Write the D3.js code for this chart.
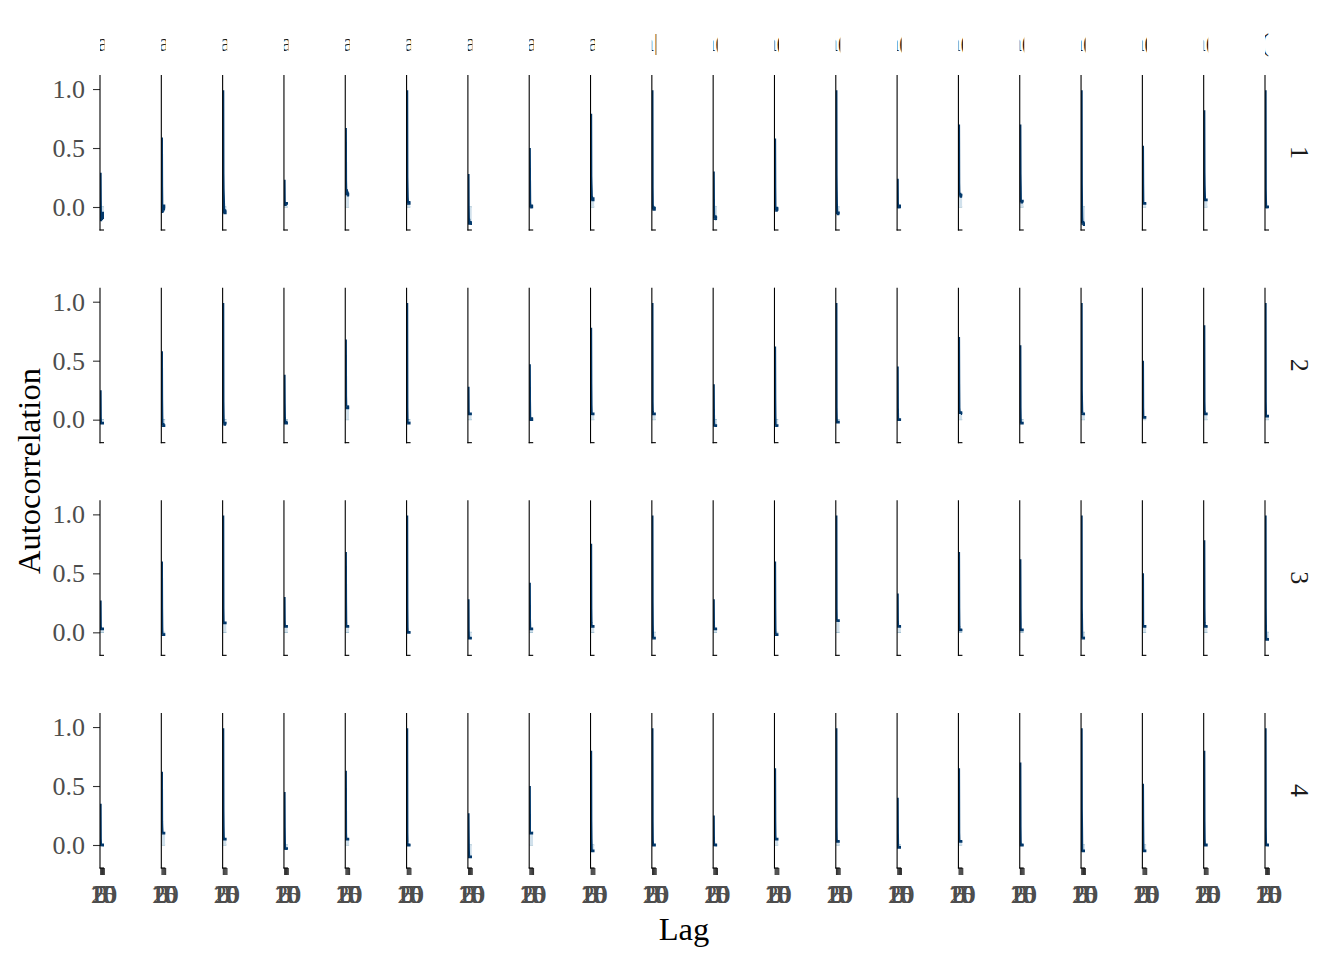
<!DOCTYPE html>
<html>
<head>
<meta charset="utf-8">
<script src="https://cdn.jsdelivr.net/npm/d3@7"></script>
<style>
  body { margin: 0; background: #ffffff; }
  svg text { font-family: "Liberation Serif", "Times New Roman", serif; }
</style>
</head>
<body>
<svg id="main-svg" width="1344" height="960"></svg>
<script>

// parameters (facet columns) and chains (facet rows)
var params = [
	'beta[1]', 'beta[2]', 'beta[3]', 'beta[4]', 'beta[5]',
	'beta[6]', 'beta[7]', 'beta[8]', 'beta[9]', 'beta[10]',
	'eta(1)', 'eta(2)', 'eta(3)', 'eta(4)', 'eta(5)',
	'eta(6)', 'eta(7)', 'eta(8)', 'eta(9)', 'eta(10)'
];
var chains = [ '1', '2', '3', '4' ];
var lags = d3.range( 1, 21 );
var lagTicks = [ 0, 5, 10, 15, 20 ];
var acfTicks = [ 0.0, 0.5, 1.0 ];

// autocorrelation at lags 1..20, one array per parameter
var acfChain1 = [
	[0.29, 0.05, -0.10, -0.12, -0.06, -0.08, -0.04, -0.09, -0.11, -0.07, -0.05, -0.08, -0.10, -0.06, -0.04, -0.07, -0.09, -0.08, -0.10, -0.08],
	[0.59, 0.17, 0.02, -0.05, -0.03, 0.01, -0.02, -0.04, 0.00, 0.02, -0.01, -0.03, 0.01, 0.00, -0.02, 0.01, 0.02, -0.01, 0.00, 0.00],
	[0.99, 0.28, 0.15, 0.10, 0.04, -0.02, -0.05, -0.03, -0.04, -0.06, -0.05, -0.02, -0.04, -0.05, -0.03, -0.04, -0.06, -0.05, -0.04, -0.05],
	[0.23, 0.05, 0.03, 0.02, 0.04, 0.03, 0.01, 0.03, 0.04, 0.02, 0.03, 0.02, 0.04, 0.03, 0.02, 0.03, 0.04, 0.02, 0.03, 0.03],
	[0.67, 0.22, 0.15, 0.12, 0.10, 0.14, 0.15, 0.12, 0.10, 0.11, 0.13, 0.10, 0.12, 0.11, 0.09, 0.10, 0.12, 0.10, 0.11, 0.10],
	[0.99, 0.25, 0.16, 0.08, 0.05, 0.03, 0.04, 0.02, 0.04, 0.05, 0.03, 0.02, 0.04, 0.03, 0.05, 0.04, 0.03, 0.02, 0.04, 0.04],
	[0.28, 0.00, -0.09, -0.12, -0.10, -0.13, -0.15, -0.12, -0.14, -0.13, -0.15, -0.14, -0.12, -0.13, -0.15, -0.14, -0.13, -0.15, -0.14, -0.15],
	[0.50, 0.22, 0.04, 0.02, 0.00, 0.01, -0.01, 0.02, 0.00, 0.01, 0.00, -0.01, 0.01, 0.00, 0.02, 0.00, -0.01, 0.01, 0.00, 0.00],
	[0.79, 0.26, 0.19, 0.14, 0.07, 0.09, 0.06, 0.08, 0.07, 0.05, 0.08, 0.07, 0.06, 0.08, 0.07, 0.06, 0.05, 0.07, 0.08, 0.07],
	[0.99, 0.16, 0.02, -0.01, 0.01, -0.02, 0.00, -0.01, -0.03, -0.02, 0.00, -0.01, -0.02, -0.03, -0.01, -0.02, 0.00, -0.02, -0.01, -0.02],
	[0.30, 0.04, -0.06, -0.10, -0.08, -0.09, -0.11, -0.08, -0.10, -0.09, -0.07, -0.10, -0.09, -0.08, -0.10, -0.11, -0.09, -0.10, -0.08, -0.10],
	[0.58, 0.16, 0.01, -0.03, -0.02, 0.00, -0.03, -0.01, -0.02, -0.04, -0.02, -0.01, -0.03, -0.02, 0.00, -0.02, -0.03, -0.01, -0.02, -0.02],
	[0.99, 0.27, 0.13, 0.01, -0.03, -0.06, -0.04, -0.05, -0.06, -0.04, -0.05, -0.07, -0.05, -0.04, -0.06, -0.05, -0.04, -0.06, -0.05, -0.06],
	[0.24, 0.04, 0.00, 0.01, -0.01, 0.02, 0.00, 0.01, 0.00, -0.01, 0.01, 0.00, 0.02, 0.00, -0.01, 0.01, 0.00, 0.01, 0.00, 0.00],
	[0.70, 0.20, 0.12, 0.10, 0.11, 0.09, 0.10, 0.12, 0.10, 0.09, 0.11, 0.10, 0.08, 0.10, 0.11, 0.09, 0.10, 0.11, 0.10, 0.10],
	[0.70, 0.28, 0.18, 0.04, 0.06, 0.05, 0.04, 0.06, 0.05, 0.03, 0.05, 0.06, 0.04, 0.05, 0.06, 0.04, 0.05, 0.04, 0.06, 0.05],
	[0.99, 0.19, 0.00, -0.09, -0.12, -0.14, -0.13, -0.15, -0.14, -0.12, -0.15, -0.14, -0.13, -0.15, -0.14, -0.16, -0.14, -0.15, -0.13, -0.15],
	[0.52, 0.19, 0.04, 0.03, 0.02, 0.04, 0.03, 0.02, 0.03, 0.04, 0.02, 0.03, 0.04, 0.03, 0.02, 0.03, 0.04, 0.02, 0.03, 0.03],
	[0.82, 0.29, 0.18, 0.12, 0.06, 0.07, 0.05, 0.06, 0.07, 0.06, 0.05, 0.07, 0.06, 0.05, 0.06, 0.07, 0.05, 0.06, 0.07, 0.06],
	[0.99, 0.15, 0.05, 0.01, -0.01, 0.00, 0.01, -0.01, 0.00, 0.01, 0.00, -0.01, 0.00, 0.01, -0.01, 0.00, 0.01, 0.00, -0.01, 0.00]
];

var acfChain2 = [
	[0.25, 0.02, -0.03, -0.02, -0.04, -0.03, -0.02, -0.04, -0.03, -0.02, -0.03, -0.04, -0.02, -0.03, -0.04, -0.03, -0.02, -0.03, -0.04, -0.03],
	[0.58, 0.17, 0.03, -0.05, -0.04, -0.06, -0.04, -0.05, -0.03, -0.05, -0.06, -0.04, -0.05, -0.04, -0.06, -0.05, -0.04, -0.05, -0.06, -0.05],
	[0.99, 0.15, 0.04, -0.03, -0.02, -0.04, -0.03, -0.02, -0.04, -0.03, -0.05, -0.03, -0.02, -0.04, -0.03, -0.02, -0.04, -0.03, -0.02, -0.03],
	[0.38, 0.14, 0.02, -0.03, -0.01, -0.02, -0.04, -0.03, -0.02, -0.03, -0.01, -0.03, -0.02, -0.04, -0.03, -0.02, -0.03, -0.04, -0.02, -0.03],
	[0.68, 0.20, 0.13, 0.11, 0.12, 0.10, 0.09, 0.11, 0.10, 0.12, 0.10, 0.09, 0.11, 0.10, 0.12, 0.11, 0.09, 0.10, 0.11, 0.10],
	[0.99, 0.10, 0.00, -0.03, -0.02, -0.04, -0.03, -0.02, -0.03, -0.04, -0.02, -0.03, -0.04, -0.03, -0.02, -0.03, -0.04, -0.02, -0.03, -0.03],
	[0.28, 0.08, 0.05, 0.04, 0.06, 0.05, 0.04, 0.05, 0.06, 0.04, 0.05, 0.06, 0.05, 0.04, 0.05, 0.06, 0.04, 0.05, 0.06, 0.05],
	[0.47, 0.15, 0.03, 0.00, 0.01, -0.01, 0.00, 0.02, 0.00, -0.01, 0.01, 0.00, -0.01, 0.01, 0.00, 0.02, 0.00, -0.01, 0.01, 0.00],
	[0.78, 0.30, 0.12, 0.06, 0.04, 0.05, 0.06, 0.04, 0.05, 0.06, 0.05, 0.04, 0.06, 0.05, 0.04, 0.05, 0.06, 0.05, 0.04, 0.05],
	[0.99, 0.15, 0.07, 0.05, 0.04, 0.06, 0.05, 0.04, 0.05, 0.06, 0.04, 0.05, 0.06, 0.05, 0.04, 0.05, 0.06, 0.04, 0.05, 0.05],
	[0.30, 0.06, -0.03, -0.05, -0.04, -0.06, -0.05, -0.04, -0.06, -0.05, -0.04, -0.05, -0.06, -0.04, -0.05, -0.06, -0.05, -0.04, -0.05, -0.05],
	[0.62, 0.17, 0.02, -0.05, -0.04, -0.06, -0.05, -0.04, -0.05, -0.06, -0.04, -0.05, -0.06, -0.05, -0.04, -0.05, -0.06, -0.04, -0.05, -0.05],
	[0.99, 0.10, 0.01, -0.02, -0.03, -0.01, -0.02, -0.03, -0.02, -0.01, -0.03, -0.02, -0.01, -0.02, -0.03, -0.02, -0.01, -0.03, -0.02, -0.02],
	[0.45, 0.10, 0.02, 0.00, -0.01, 0.01, 0.00, -0.01, 0.01, 0.00, 0.01, -0.01, 0.00, 0.01, 0.00, -0.01, 0.00, 0.01, 0.00, 0.00],
	[0.70, 0.30, 0.10, 0.08, 0.06, 0.05, 0.07, 0.06, 0.05, 0.06, 0.07, 0.05, 0.06, 0.05, 0.07, 0.06, 0.05, 0.06, 0.05, 0.05],
	[0.63, 0.10, 0.01, -0.03, -0.02, -0.04, -0.03, -0.02, -0.03, -0.04, -0.03, -0.02, -0.03, -0.04, -0.02, -0.03, -0.04, -0.03, -0.02, -0.03],
	[0.99, 0.25, 0.15, 0.07, 0.05, 0.06, 0.04, 0.05, 0.06, 0.05, 0.04, 0.06, 0.05, 0.04, 0.05, 0.06, 0.05, 0.04, 0.05, 0.05],
	[0.50, 0.10, 0.03, 0.02, 0.01, 0.03, 0.02, 0.01, 0.02, 0.03, 0.02, 0.01, 0.02, 0.03, 0.02, 0.01, 0.02, 0.03, 0.02, 0.02],
	[0.80, 0.15, 0.07, 0.05, 0.04, 0.06, 0.05, 0.04, 0.05, 0.06, 0.05, 0.04, 0.05, 0.06, 0.04, 0.05, 0.06, 0.05, 0.04, 0.05],
	[0.99, 0.15, 0.05, 0.03, 0.02, 0.04, 0.03, 0.02, 0.03, 0.04, 0.03, 0.02, 0.03, 0.04, 0.03, 0.02, 0.03, 0.04, 0.03, 0.03]
];

var acfChain3 = [
	[0.27, 0.06, 0.03, 0.02, 0.04, 0.03, 0.02, 0.03, 0.04, 0.03, 0.02, 0.04, 0.03, 0.02, 0.03, 0.04, 0.02, 0.03, 0.04, 0.03],
	[0.60, 0.20, 0.04, -0.02, -0.01, -0.03, -0.02, -0.01, -0.02, -0.03, -0.01, -0.02, -0.03, -0.02, -0.01, -0.02, -0.03, -0.01, -0.02, -0.02],
	[0.99, 0.20, 0.10, 0.08, 0.09, 0.07, 0.08, 0.09, 0.08, 0.07, 0.09, 0.08, 0.07, 0.08, 0.09, 0.07, 0.08, 0.09, 0.08, 0.08],
	[0.30, 0.10, 0.05, 0.04, 0.06, 0.05, 0.04, 0.05, 0.06, 0.04, 0.05, 0.06, 0.05, 0.04, 0.05, 0.06, 0.04, 0.05, 0.06, 0.05],
	[0.68, 0.25, 0.08, 0.05, 0.04, 0.06, 0.05, 0.04, 0.05, 0.06, 0.04, 0.05, 0.06, 0.05, 0.04, 0.05, 0.06, 0.04, 0.05, 0.05],
	[0.99, 0.20, 0.04, 0.00, -0.01, 0.01, 0.00, -0.01, 0.01, 0.00, -0.01, 0.00, 0.01, 0.00, -0.01, 0.01, 0.00, -0.01, 0.00, 0.00],
	[0.28, 0.02, -0.04, -0.05, -0.06, -0.04, -0.05, -0.06, -0.05, -0.04, -0.06, -0.05, -0.04, -0.05, -0.06, -0.05, -0.04, -0.06, -0.05, -0.05],
	[0.42, 0.10, 0.04, 0.03, 0.02, 0.04, 0.03, 0.02, 0.03, 0.04, 0.02, 0.03, 0.04, 0.03, 0.02, 0.03, 0.04, 0.02, 0.03, 0.03],
	[0.75, 0.20, 0.08, 0.05, 0.06, 0.04, 0.05, 0.06, 0.05, 0.04, 0.06, 0.05, 0.04, 0.05, 0.06, 0.05, 0.04, 0.06, 0.05, 0.05],
	[0.99, 0.25, 0.06, -0.03, -0.05, -0.04, -0.06, -0.05, -0.04, -0.05, -0.06, -0.04, -0.05, -0.06, -0.05, -0.04, -0.05, -0.06, -0.04, -0.05],
	[0.28, 0.07, 0.03, 0.02, 0.04, 0.03, 0.02, 0.03, 0.04, 0.02, 0.03, 0.04, 0.03, 0.02, 0.03, 0.04, 0.03, 0.02, 0.03, 0.03],
	[0.60, 0.20, 0.03, -0.02, -0.01, -0.03, -0.02, -0.01, -0.02, -0.03, -0.02, -0.01, -0.02, -0.03, -0.01, -0.02, -0.03, -0.02, -0.01, -0.02],
	[0.99, 0.20, 0.10, 0.11, 0.09, 0.10, 0.11, 0.10, 0.09, 0.10, 0.11, 0.09, 0.10, 0.11, 0.10, 0.09, 0.10, 0.11, 0.10, 0.10],
	[0.33, 0.10, 0.06, 0.05, 0.04, 0.06, 0.05, 0.04, 0.05, 0.06, 0.04, 0.05, 0.06, 0.05, 0.04, 0.05, 0.06, 0.04, 0.05, 0.05],
	[0.68, 0.20, 0.05, 0.02, 0.01, 0.03, 0.02, 0.01, 0.02, 0.03, 0.01, 0.02, 0.03, 0.02, 0.01, 0.02, 0.03, 0.01, 0.02, 0.02],
	[0.62, 0.20, 0.04, 0.02, 0.01, 0.03, 0.02, 0.01, 0.02, 0.03, 0.02, 0.01, 0.02, 0.03, 0.01, 0.02, 0.03, 0.02, 0.01, 0.02],
	[0.99, 0.20, 0.10, -0.03, -0.05, -0.04, -0.06, -0.05, -0.04, -0.05, -0.06, -0.04, -0.05, -0.06, -0.05, -0.04, -0.05, -0.06, -0.04, -0.05],
	[0.50, 0.05, 0.04, 0.05, 0.06, 0.04, 0.05, 0.06, 0.05, 0.04, 0.05, 0.06, 0.04, 0.05, 0.06, 0.05, 0.04, 0.05, 0.06, 0.05],
	[0.78, 0.20, 0.08, 0.05, 0.04, 0.06, 0.05, 0.04, 0.05, 0.06, 0.04, 0.05, 0.06, 0.05, 0.04, 0.05, 0.06, 0.04, 0.05, 0.05],
	[0.99, 0.20, 0.02, -0.04, -0.06, -0.05, -0.07, -0.06, -0.05, -0.06, -0.07, -0.05, -0.06, -0.07, -0.06, -0.05, -0.06, -0.07, -0.05, -0.06]
];

var acfChain4 = [
	[0.35, 0.05, 0.01, 0.00, -0.01, 0.01, 0.00, -0.01, 0.00, 0.01, 0.00, -0.01, 0.01, 0.00, -0.01, 0.00, 0.01, 0.00, -0.01, 0.00],
	[0.62, 0.20, 0.15, 0.12, 0.10, 0.11, 0.09, 0.10, 0.11, 0.10, 0.09, 0.11, 0.10, 0.09, 0.10, 0.11, 0.09, 0.10, 0.11, 0.10],
	[0.99, 0.30, 0.15, 0.07, 0.05, 0.06, 0.04, 0.05, 0.06, 0.05, 0.04, 0.06, 0.05, 0.04, 0.05, 0.06, 0.05, 0.04, 0.05, 0.05],
	[0.45, 0.15, 0.02, -0.03, -0.02, -0.04, -0.03, -0.02, -0.03, -0.04, -0.02, -0.03, -0.04, -0.03, -0.02, -0.03, -0.04, -0.02, -0.03, -0.03],
	[0.63, 0.10, 0.06, 0.05, 0.04, 0.06, 0.05, 0.04, 0.05, 0.06, 0.04, 0.05, 0.06, 0.05, 0.04, 0.05, 0.06, 0.04, 0.05, 0.05],
	[0.99, 0.10, 0.02, 0.00, -0.01, 0.01, 0.00, -0.01, 0.00, 0.01, -0.01, 0.00, 0.01, 0.00, -0.01, 0.00, 0.01, -0.01, 0.00, 0.00],
	[0.27, 0.10, -0.04, -0.09, -0.10, -0.11, -0.09, -0.10, -0.11, -0.10, -0.09, -0.11, -0.10, -0.09, -0.10, -0.11, -0.09, -0.10, -0.11, -0.10],
	[0.50, 0.10, 0.09, 0.11, 0.10, 0.09, 0.10, 0.11, 0.10, 0.09, 0.11, 0.10, 0.09, 0.10, 0.11, 0.10, 0.09, 0.11, 0.10, 0.10],
	[0.80, 0.20, 0.05, -0.03, -0.05, -0.04, -0.06, -0.05, -0.04, -0.05, -0.06, -0.04, -0.05, -0.06, -0.05, -0.04, -0.05, -0.06, -0.04, -0.05],
	[0.99, 0.20, 0.04, 0.01, 0.00, -0.01, 0.01, 0.00, -0.01, 0.00, 0.01, -0.01, 0.00, 0.01, 0.00, -0.01, 0.00, 0.01, 0.00, 0.00],
	[0.25, 0.04, 0.01, 0.00, -0.01, 0.01, 0.00, -0.01, 0.00, 0.01, 0.00, -0.01, 0.01, 0.00, -0.01, 0.00, 0.01, 0.00, -0.01, 0.00],
	[0.65, 0.20, 0.08, 0.05, 0.04, 0.06, 0.05, 0.04, 0.05, 0.06, 0.04, 0.05, 0.06, 0.05, 0.04, 0.05, 0.06, 0.04, 0.05, 0.05],
	[0.99, 0.15, 0.05, 0.03, 0.02, 0.04, 0.03, 0.02, 0.03, 0.04, 0.02, 0.03, 0.04, 0.03, 0.02, 0.03, 0.04, 0.02, 0.03, 0.03],
	[0.40, 0.10, 0.01, -0.02, -0.01, -0.03, -0.02, -0.01, -0.02, -0.03, -0.01, -0.02, -0.03, -0.02, -0.01, -0.02, -0.03, -0.01, -0.02, -0.02],
	[0.65, 0.10, 0.04, 0.03, 0.02, 0.04, 0.03, 0.02, 0.03, 0.04, 0.02, 0.03, 0.04, 0.03, 0.02, 0.03, 0.04, 0.02, 0.03, 0.03],
	[0.70, 0.15, 0.03, 0.00, -0.01, 0.01, 0.00, -0.01, 0.00, 0.01, -0.01, 0.00, 0.01, 0.00, -0.01, 0.00, 0.01, -0.01, 0.00, 0.00],
	[0.99, 0.30, 0.15, -0.03, -0.05, -0.04, -0.06, -0.05, -0.04, -0.05, -0.06, -0.04, -0.05, -0.06, -0.05, -0.04, -0.05, -0.06, -0.04, -0.05],
	[0.52, 0.20, 0.02, -0.04, -0.05, -0.06, -0.05, -0.04, -0.05, -0.06, -0.04, -0.05, -0.06, -0.05, -0.04, -0.05, -0.06, -0.04, -0.05, -0.05],
	[0.80, 0.20, 0.05, 0.01, 0.00, -0.01, 0.01, 0.00, -0.01, 0.00, 0.01, -0.01, 0.00, 0.01, 0.00, -0.01, 0.00, 0.01, 0.00, 0.00],
	[0.99, 0.15, 0.03, 0.00, -0.01, 0.01, 0.00, -0.01, 0.00, 0.01, -0.01, 0.00, 0.01, 0.00, -0.01, 0.00, 0.01, -0.01, 0.00, 0.00]
];

var acfByChain = [ acfChain1, acfChain2, acfChain3, acfChain4 ];


var svg = d3.select( 'svg#main-svg' ),
	fontFamily = '"Liberation Serif", "Times New Roman", serif',
	panelW = 4,
	panelH = 155,
	colLeft = d3.scalePoint().domain( params ).range( [ 100, 1265 ] ),
	rowTop = d3.scalePoint().domain( chains ).range( [ 75, 713 ] ),
	x = d3.scaleLinear().domain( [ -1, 21 ] ).range( [ 0, panelW ] ),
	y = d3.scaleLinear().domain( [ -0.195, 1.119 ] ).range( [ panelH, 0 ] ),
	colors = { light: '#d1e1ec', mid: '#6497b1', dark: '#03396c' };

var defs = svg.append( 'defs' );
defs.append( 'clipPath' ).attr( 'id', 'panel-clip' )
	.append( 'rect' ).attr( 'x', 0 ).attr( 'y', 0 ).attr( 'width', panelW ).attr( 'height', panelH );
defs.append( 'clipPath' ).attr( 'id', 'strip-clip' )
	.append( 'rect' ).attr( 'x', 0 ).attr( 'y', 26 ).attr( 'width', panelW + 0.5 ).attr( 'height', 40 );

var area = d3.area()
	.x( function( d, i ) { return x( lags[ i ] ); } )
	.y0( y( 0 ) )
	.y1( function( d ) { return y( d ); } );

var line = d3.line()
	.x( function( d, i ) { return x( lags[ i ] ); } )
	.y( function( d ) { return y( d ); } );

// column strips (labels clipped to the narrow panel width)
params.forEach( function( p ) {
	svg.append( 'g' )
		.attr( 'transform', 'translate(' + colLeft( p ) + ',0)' )
		.attr( 'clip-path', 'url(#strip-clip)' )
		.append( 'text' )
		.attr( 'x', panelW / 2 )
		.attr( 'y', 51 )
		.attr( 'text-anchor', 'middle' )
		.attr( 'font-size', 25 )
		.attr( 'fill', '#1a1a1a' )
		.text( p );
} );

chains.forEach( function( ch, r ) {

	params.forEach( function( p, c ) {
		var vals = acfByChain[ r ][ c ],
			g = svg.append( 'g' )
				.attr( 'transform', 'translate(' + colLeft( p ) + ',' + rowTop( ch ) + ')' ),
			inner = g.append( 'g' ).attr( 'clip-path', 'url(#panel-clip)' );

		inner.append( 'line' )
			.attr( 'x1', 0 ).attr( 'x2', panelW )
			.attr( 'y1', y( 0 ) ).attr( 'y2', y( 0 ) )
			.attr( 'stroke', colors.mid ).attr( 'stroke-width', 0.8 );

		inner.append( 'path' )
			.attr( 'd', area( vals ) )
			.attr( 'fill', colors.light );

		inner.append( 'path' )
			.attr( 'd', line( vals ) )
			.attr( 'fill', 'none' )
			.attr( 'stroke', colors.dark )
			.attr( 'stroke-width', 2.6 );

		// y ticks only in first column
		if ( c === 0 ) {
			var ya = d3.axisLeft( y ).tickValues( acfTicks ).tickFormat( d3.format( '.1f' ) ).tickSize( 7 ).tickPadding( 8 );
			var yg = g.append( 'g' ).call( ya );
			yg.select( '.domain' ).remove();
			yg.selectAll( '.tick line' ).attr( 'stroke', '#333333' ).attr( 'stroke-width', 1.1 );
			yg.selectAll( '.tick text' ).attr( 'fill', '#4d4d4d' ).attr( 'font-size', 26 )
				.attr( 'font-family', fontFamily );
		}

		// x ticks only in bottom row
		if ( r === chains.length - 1 ) {
			var xa = d3.axisBottom( x ).tickValues( lagTicks ).tickSize( 7 ).tickPadding( 10 );
			var xg = g.append( 'g' ).attr( 'transform', 'translate(0,' + panelH + ')' ).call( xa );
			xg.select( '.domain' ).remove();
			xg.selectAll( '.tick line' ).attr( 'stroke', '#333333' ).attr( 'stroke-width', 1.1 );
			xg.selectAll( '.tick text' ).attr( 'fill', '#4d4d4d' ).attr( 'font-size', 26 )
				.attr( 'font-family', fontFamily );
		}

		// axis lines
		g.append( 'line' )
			.attr( 'x1', 0 ).attr( 'x2', 0 ).attr( 'y1', 0 ).attr( 'y2', panelH + 0.5 )
			.attr( 'stroke', '#000000' ).attr( 'stroke-width', 1.1 );
		g.append( 'line' )
			.attr( 'x1', -0.5 ).attr( 'x2', panelW ).attr( 'y1', panelH ).attr( 'y2', panelH )
			.attr( 'stroke', '#000000' ).attr( 'stroke-width', 1.1 );
	} );

	// row strip on the right
	var cy = rowTop( ch ) + panelH / 2;
	svg.append( 'text' )
		.attr( 'transform', 'translate(1300,' + cy + ') rotate(90)' )
		.attr( 'text-anchor', 'middle' )
		.attr( 'dy', '0.35em' )
		.attr( 'font-size', 26 )
		.attr( 'fill', '#1a1a1a' )
		.text( ch );
} );

// axis titles
svg.append( 'text' )
	.attr( 'x', 684 ).attr( 'y', 940 )
	.attr( 'text-anchor', 'middle' )
	.attr( 'font-size', 32.5 )
	.text( 'Lag' );

svg.append( 'text' )
	.attr( 'transform', 'translate(40,471) rotate(-90)' )
	.attr( 'text-anchor', 'middle' )
	.attr( 'font-size', 32.5 )
	.text( 'Autocorrelation' );

</script>
</body>
</html>
